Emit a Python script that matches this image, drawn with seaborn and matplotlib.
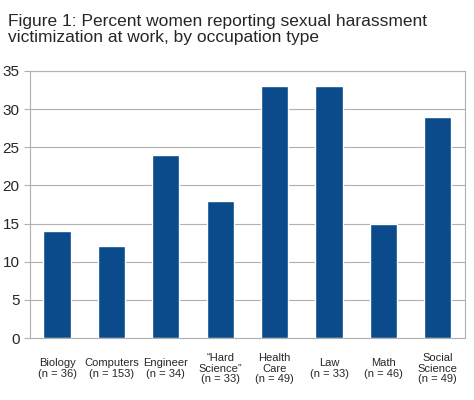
import matplotlib
matplotlib.use("Agg")
import matplotlib.pyplot as plt
import seaborn as sns
import pandas as pd

categories = ["Biology\n(n = 36)", "Computers\n(n = 153)", "Engineer\n(n = 34)",
              "\u201cHard\nScience\u201d\n(n = 33)", "Health\nCare\n(n = 49)",
              "Law\n(n = 33)", "Math\n(n = 46)", "Social\nScience\n(n = 49)"]
values = [14, 12, 24, 18, 33, 33, 15, 29]

sns.set_style("white")
plt.rcParams['font.family'] = ['Liberation Sans', 'DejaVu Sans']

df = pd.DataFrame({"cat": categories, "val": values})
fig = plt.figure(figsize=(4.74, 4.0), dpi=100)
ax = fig.add_axes([0.063, 0.155, 0.918, 0.6675])
sns.barplot(data=df, x="cat", y="val", color="#0b4a8b", width=0.5, saturation=1, ax=ax)
ax.set_ylim(0, 35)
ax.set_yticks(range(0, 36, 5))
ax.yaxis.grid(True, color="#b0b0b0", lw=0.8)
ax.set_axisbelow(True)
for s in ax.spines.values():
    s.set_color("#b0b0b0")
ax.set_xlabel("")
ax.set_ylabel("")
ax.tick_params(axis="y", labelsize=11, length=4, color="#b0b0b0", left=True)
ax.tick_params(axis="x", labelsize=8, length=0, pad=22)
for t in ax.get_xticklabels():
    t.set_va("center")
    t.set_linespacing(1.1)
fig.text(0.017, 0.965, "Figure 1: Percent women reporting sexual harassment\nvictimization at work, by occupation type",
         fontsize=12.5, va="top", ha="left", linespacing=1.05)
fig.savefig("out.png", dpi=100)
